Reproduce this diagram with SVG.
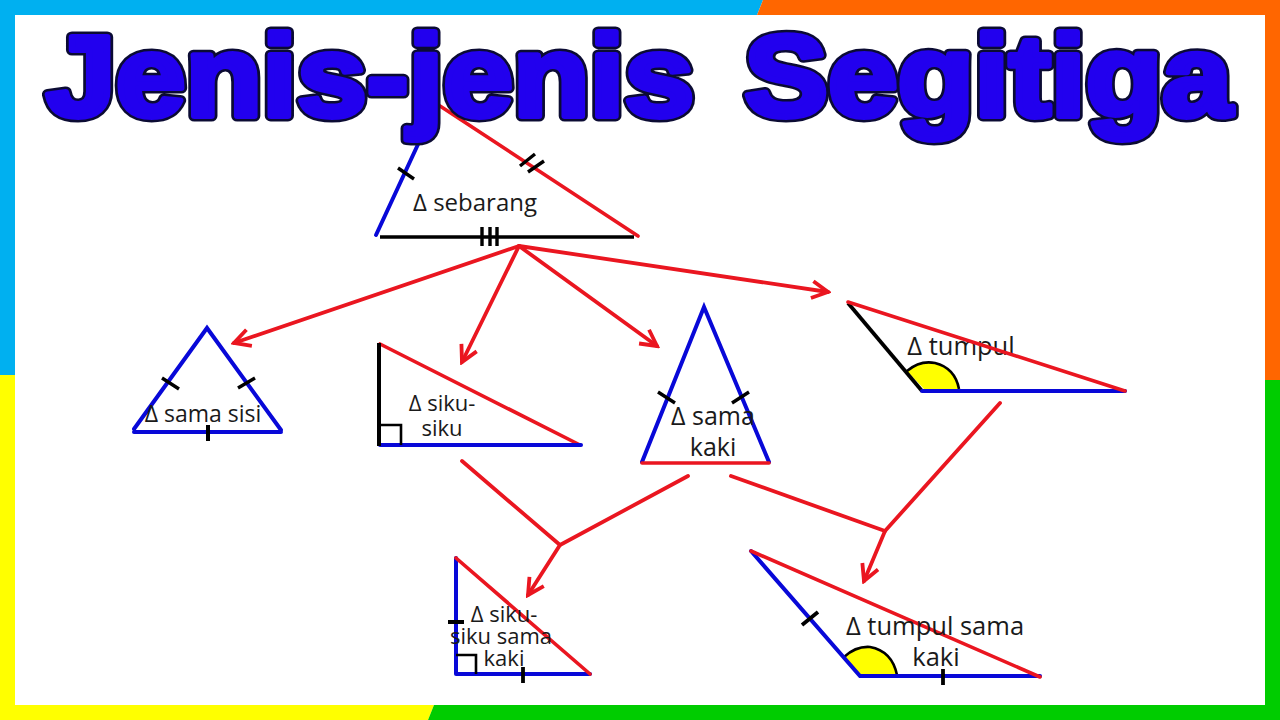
<svg xmlns="http://www.w3.org/2000/svg" width="1280" height="720" viewBox="0 0 1280 720">
<defs>
<marker id="arr" viewBox="0 0 22 22" refX="19" refY="11" markerWidth="22" markerHeight="22" markerUnits="userSpaceOnUse" orient="auto"><path d="M3 2.5 L19 11 L3 19.5" fill="none" stroke="#ea1620" stroke-width="3.8"/></marker>
</defs>
<style>
.b{stroke:#0808d8;stroke-width:4;fill:none;stroke-linecap:round}
.r{stroke:#ea1620;stroke-width:3.6;fill:none;stroke-linecap:round}
.k{stroke:#000;stroke-width:3.4;fill:none}
.c{stroke:#ea1620;stroke-width:3.8;fill:none;stroke-linecap:round}
.t{font-family:"Open Sans","Noto Sans",sans-serif;font-size:25px;fill:#1a1a1a;text-anchor:middle}
.h{font-family:"Liberation Sans",Arial,sans-serif;font-weight:700;font-size:115px;word-spacing:14px}
</style>
<rect width="1280" height="720" fill="#fff"/>
<g id="frame">
<path d="M0 0H763L757 15H15V375H0Z" fill="#00b0f0"/>
<path d="M763 0H1280V380H1265V15H757Z" fill="#ff6600"/>
<path d="M0 375H15V705H434L428 720H0Z" fill="#ffff00"/>
<path d="M1280 380V720H428L434 705H1265V380Z" fill="#00cc00"/>
</g>
<g id="tri-sebarang">
<path class="r" d="M440 106L638 236"/>
<path class="b" d="M376 235L420 140"/>
<path class="k" d="M380 237H634"/>
<path class="k" d="M398 168L414 179M520 166L535 154M528 172L544 161M482 227V246M490 227V246M497 227V246"/>
<text class="t" x="475" y="211" style="font-size:24px">Δ sebarang</text>
</g>
<g id="tri-sama-sisi">
<path class="b" d="M134 432H281M134 429L207 328L281 430"/>
<path class="k" d="M162 378L179 389M238 388L255 378"/>
<path class="k" d="M208 425V441" style="stroke-width:4"/>
<text class="t" x="203" y="422" style="font-size:23px">Δ sama sisi</text>
</g>
<g id="tri-siku-siku">
<path class="r" d="M380 344L580 445"/>
<path class="b" d="M380 445H581"/>
<path class="k" d="M379 343V446" style="stroke-width:4"/>
<path class="k" d="M379 425H401V445" style="stroke-width:2.6"/>
<text class="t" x="442" y="411" style="font-size:22px">Δ siku-</text>
<text class="t" x="442" y="436" style="font-size:22px">siku</text>
</g>
<g id="tri-sama-kaki">
<path class="b" d="M642 462L704 307L769 462"/>
<path class="r" d="M642 463H769"/>
<path class="k" d="M658 392L675 403M732 403L749 392"/>
<text class="t" x="713" y="425">Δ sama</text>
<text class="t" x="713" y="456">kaki</text>
</g>
<g id="tri-tumpul">
<path d="M907 371Q920 360 935 363Q955 368 959 389H924Z" fill="#ffff00"/>
<path d="M907 371Q920 360 935 363Q955 368 959 389" fill="none" stroke="#000" stroke-width="2.6"/>
<path class="k" d="M848 303L922 391" style="stroke-width:3.8"/>
<path class="b" d="M922 391H1125"/>
<text class="t" x="961" y="355" style="font-size:25.5px">Δ tumpul</text>
<path class="r" d="M848 302L1125 391"/>
</g>
<g id="tri-siku-sama-kaki">
<path class="b" d="M456 558V674M456 674H590"/>
<path class="r" d="M456 558L590 674"/>
<path class="k" d="M448 622H464M523 667V683" style="stroke-width:3.8"/>
<path class="k" d="M456 655H476V674" style="stroke-width:2.6"/>
<text class="t" x="504" y="622" style="font-size:22px">Δ siku-</text>
<text class="t" x="501" y="644" style="font-size:22px">siku sama</text>
<text class="t" x="504" y="666" style="font-size:22px">kaki</text>
</g>
<g id="tri-tumpul-sama-kaki">
<path d="M844 657Q856 646 870 647Q892 651 897 675H860Z" fill="#ffff00"/>
<path d="M844 657Q856 646 870 647Q892 651 897 675" fill="none" stroke="#000" stroke-width="2.6"/>
<path class="b" d="M751 551L860 676H1040"/>
<path class="r" d="M751 551L1040 677"/>
<path class="k" d="M802 625L818 612M943 669V685" style="stroke-width:3.8"/>
<text class="t" x="935" y="635" style="font-size:25.5px">Δ tumpul sama</text>
<text class="t" x="936" y="666" style="font-size:25.5px">kaki</text>
</g>
<g id="connectors">
<path class="c" d="M519 246L234 343" marker-end="url(#arr)"/>
<path class="c" d="M519 246L462 362" marker-end="url(#arr)"/>
<path class="c" d="M519 246L657 346" marker-end="url(#arr)"/>
<path class="c" d="M519 246L828 292" marker-end="url(#arr)"/>
<path class="c" d="M462 461L560 545"/>
<path class="c" d="M688 476L560 545L528 595" marker-end="url(#arr)"/>
<path class="c" d="M731 476L885 531"/>
<path class="c" d="M1000 403L885 531L864 581" marker-end="url(#arr)"/>
</g>
<g id="title">
<text class="h" x="46" y="115.5" textLength="1186" lengthAdjust="spacingAndGlyphs" fill="none" stroke="#0b0b33" stroke-width="11" stroke-linejoin="round">Jenis-jenis Segitiga</text>
<text class="h" x="46" y="115.5" textLength="1186" lengthAdjust="spacingAndGlyphs" fill="#2200ee" stroke="#2200ee" stroke-width="6" stroke-linejoin="round">Jenis-jenis Segitiga</text>
</g>
</svg>
